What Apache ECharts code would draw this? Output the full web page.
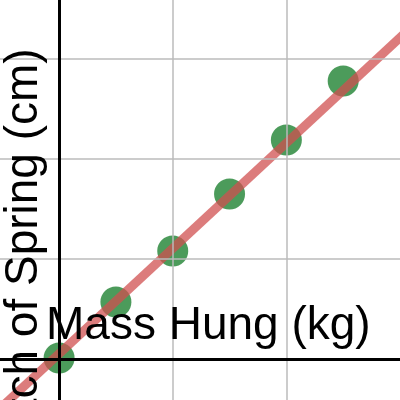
<!DOCTYPE html>
<html>
<head>
<meta charset="utf-8">
<script src="https://cdn.jsdelivr.net/npm/echarts@6/dist/echarts.min.js"></script>
<style>html,body{margin:0;padding:0;background:#fff}#chart{width:400px;height:400px}</style>
</head>
<body>
<div id="chart"></div>
<script>
// data
const massKg = [0, 0.5, 1, 1.5, 2, 2.5];
const stretchCm = [0.01, 0.57, 1.08, 1.65, 2.19, 2.78];
const fitX = [-0.6, 3.1];
const fitY = [-0.58, 3.32];
const gridX = [1, 2];
const gridY = [1, 2, 3];
const xLabel = 'Mass Hung (kg)';
const yLabel = 'Stretch of Spring (cm)';

const chart = echarts.init(document.getElementById('chart'));
const gridStyle = { color: '#bbb', width: 1.5, type: 'solid' };
const axisStyle = { color: '#000', width: 3, type: 'solid' };

chart.setOption({
  animation: false,
  grid: { left: 0, right: 0, top: 0, bottom: 0 },
  xAxis: { type: 'value', min: -0.52, max: 3.0, show: false },
  yAxis: { type: 'value', min: -0.41, max: 3.59, show: false },
  series: [
    {
      type: 'line', data: [], silent: true,
      markLine: {
        symbol: 'none', silent: true, label: { show: false },
        data: gridX.map(v => ({ xAxis: v, lineStyle: gridStyle }))
          .concat(gridY.map(v => ({ yAxis: v, lineStyle: gridStyle })))
          .concat([{ xAxis: 0, lineStyle: axisStyle }, { yAxis: 0, lineStyle: axisStyle }])
      }
    },
    {
      type: 'scatter', z: 2,
      data: massKg.map((m, i) => [m, stretchCm[i]]),
      symbolSize: 31,
      itemStyle: { color: '#2d8a3e', opacity: 0.85 }
    },
    {
      type: 'line', z: 3, symbol: 'none',
      data: fitX.map((x, i) => [x, fitY[i]]),
      lineStyle: { color: '#d05050', width: 9, opacity: 0.75 }
    }
  ],
  graphic: [
    { type: 'text', x: 46, y: 326, z: 10,
      style: { text: xLabel, font: '46px "Liberation Sans", Arial', fill: '#000', verticalAlign: 'middle' } },
    { type: 'text', x: 24, y: 272, rotation: Math.PI / 2, z: 10,
      style: { text: yLabel, font: '46px "Liberation Sans", Arial', fill: '#000', align: 'center', verticalAlign: 'middle' } }
  ]
});
</script>
</body>
</html>
